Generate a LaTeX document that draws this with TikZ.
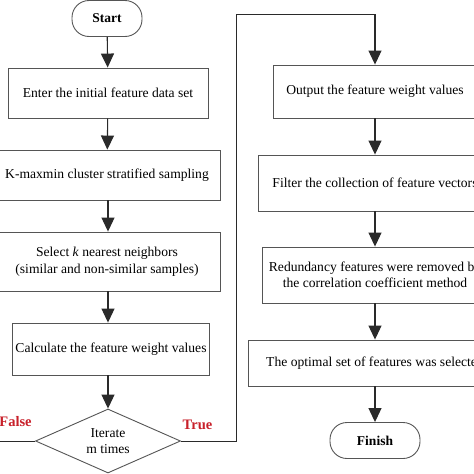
\documentclass[tikz,border=0pt]{standalone}
\usepackage{fontspec}
\setmainfont{Liberation Serif}
\usetikzlibrary{arrows.meta,shapes.geometric}
\definecolor{lbl}{HTML}{C8202A}
\definecolor{ln}{HTML}{2A2A2A}
\definecolor{bd}{HTML}{555555}
\begin{document}
\begin{tikzpicture}[x=1pt,y=-1pt,
  proc/.style={draw=bd,line width=0.9pt,rectangle,align=center,inner sep=0pt,font=\fontsize{13.6}{16.5}\selectfont},
  term/.style={draw=bd,line width=0.9pt,rectangle,rounded corners=17pt,minimum width=70pt,minimum height=36pt,inner sep=0pt,font=\bfseries\fontsize{13.5}{15}\selectfont},
  dec/.style={draw=bd,line width=0.9pt,diamond,aspect=2.25,inner sep=0pt,minimum width=145pt,minimum height=64pt,align=center,font=\fontsize{13.6}{16}\selectfont},
  arr/.style={draw=ln,line width=1.1pt,-{Triangle[width=13pt,length=14pt]}},
  lin/.style={draw=ln,line width=1pt},
  tf/.style={text=lbl,font=\bfseries\fontsize{14.5}{16}\selectfont}]
\useasboundingbox (0,0) rectangle (474,474);
\fill[white] (0,0) rectangle (474,474);
\clip (0,0) rectangle (474,474);
% left column
\node[term] (start) at (107,18.5) {Start};
\node[proc,minimum width=200pt,minimum height=50pt] (b1) at (108,93) {Enter the initial feature data set};
\node[proc,minimum width=226pt,minimum height=50pt] (b2) at (107,175) {K-maxmin cluster stratified sampling};
\node[proc,minimum width=226pt,minimum height=59pt] (b3) at (107,261.5) {Select \textit{k} nearest neighbors\\(similar and non-similar samples)};
\node[proc,minimum width=197pt,minimum height=52pt] (b4) at (111,349) {Calculate the feature weight values};
\node[dec] (d) at (108,441) {Iterate\\m times};
\coordinate (fl) at (-2,441);
\node[tf] at (15.5,422) {False};
\node[tf] at (197.5,425) {True};
% right column
\node[proc,minimum width=204pt,minimum height=53pt] (b5) at (375,91.5) {Output the feature weight values};
\node[proc,minimum width=234pt,minimum height=56pt] (b6) at (375,183) {Filter the collection of feature vectors};
\node[proc,minimum width=226pt,minimum height=56pt] (b7) at (375,275) {Redundancy features were removed by\\the correlation coefficient method};
\node[proc,minimum width=254pt,minimum height=46pt] (b8) at (375,363) {The optimal set of features was selected};
\node[term,minimum width=90pt] (fin) at (375,440.5) {Finish};
\coordinate (c1) at (236,441);
\coordinate (c2) at (236,14);
\coordinate (c3) at (375,14);
% connectors
\draw[arr] (start) -- (b1);
\draw[arr] (b1) -- (b2);
\draw[arr] (b2.south -| b1) -- (b3.north -| b1);
\draw[arr] (b3.south -| b1) -- (b4.north -| b1);
\draw[arr] (b4.south -| d) -- (d);
\draw[lin] (d.west) -- (fl);
\draw[lin] (d.east) -- (c1) -- (c2) -- (c3);
\draw[arr] (c3) -- (b5);
\draw[arr] (b5) -- (b6);
\draw[arr] (b6) -- (b7);
\draw[arr] (b7) -- (b8);
\draw[arr] (b8) -- (fin);
\end{tikzpicture}
\end{document}
